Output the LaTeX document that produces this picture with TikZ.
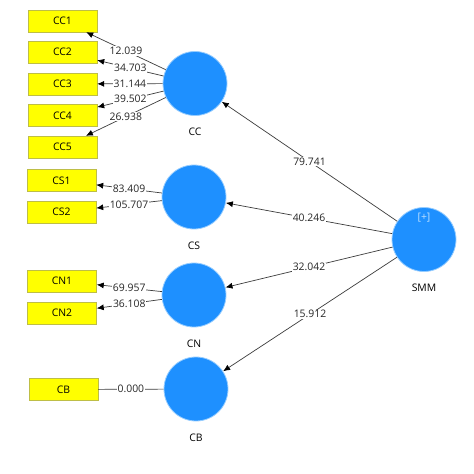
\documentclass[tikz,border=0pt]{standalone}
\usepackage{fontspec}
\setmainfont{Open Sans}
\usepackage{tikz}
\usetikzlibrary{arrows.meta,positioning}
\definecolor{ConstructBlue}{RGB}{30,144,255}
\definecolor{RimBlue}   {RGB}{150,205,255}
\definecolor{ItemYellow}{RGB}{255,255,0}
\definecolor{ItemBorder}{RGB}{190,190,70}
\definecolor{LineGray}  {RGB}{60,60,60}
\definecolor{PlusBlue}  {RGB}{190,225,255}

\begin{document}
\begin{tikzpicture}[
  x=1pt, y=-1pt,
  font=\fontsize{10.4}{12}\selectfont,
  indicator/.style={
    draw=ItemBorder, fill=ItemYellow,
    minimum width=69pt, minimum height=22pt,
    inner sep=0pt},
  construct/.style={
    circle, draw=RimBlue, fill=ConstructBlue,
    line width=0.8pt, minimum size=64pt,
    inner sep=0pt},
  arrow/.style={
    -{Latex[length=7pt,width=6pt,black]},
    line width=0.7pt, color=LineGray},
  plain/.style={line width=0.7pt, color=LineGray},
  weight/.style={fill=white, inner sep=0.8pt, text=black!85}
]
\useasboundingbox[fill=white] (0,0) rectangle (474,474);

% constructs
\node[construct, label={[label distance=9pt]below:CC}] (cc) at (195,83.5) {};
\node[construct, label={[label distance=9pt]below:CS}] (cs) at (194,197) {};
\node[construct, label={[label distance=9pt]below:CN}] (cn) at (194,295) {};
\node[construct, label={[label distance=9pt]below:CB}] (cb) at (196,389) {};
\node[construct, label={[label distance=9pt]below:SMM}] (smm) at (424,239.5) {};
\node[text=PlusBlue] (plus) at (424,218) {[+]};

% indicators
\node[indicator] (cc1) at (62.5,21) {CC1};
\node[indicator] (cc2) at (62.5,52) {CC2};
\node[indicator] (cc3) at (62.5,84) {CC3};
\node[indicator] (cc4) at (62.5,115.5) {CC4};
\node[indicator] (cc5) at (62.5,147) {CC5};
\node[indicator] (cs1) at (61.5,180.5) {CS1};
\node[indicator] (cs2) at (61.5,212) {CS2};
\node[indicator] (cn1) at (62,281) {CN1};
\node[indicator] (cn2) at (62,313) {CN2};
\node[indicator] (cb1) at (63.5,389.5) {CB};

% outer loadings
\draw[arrow] (cc) -- node[weight] {12.039} (cc1);
\draw[arrow] (cc) -- node[weight] {34.703} (cc2);
\draw[arrow] (cc) -- node[weight] {31.144} (cc3);
\draw[arrow] (cc) -- node[weight] {39.502} (cc4);
\draw[arrow] (cc) -- node[weight] {26.938} (cc5);
\draw[arrow] (cs) -- node[weight] {83.409} (cs1);
\draw[arrow] (cs) -- node[weight] {105.707} (cs2);
\draw[arrow] (cn) -- node[weight] {69.957} (cn1);
\draw[arrow] (cn) -- node[weight] {36.108} (cn2);
\draw[plain] (cb) -- node[weight] {0.000} (cb1);

% paths
\draw[arrow] (smm) -- node[weight] {79.741} (cc);
\draw[arrow] (smm) -- node[weight] {40.246} (cs);
\draw[arrow] (smm) -- node[weight] {32.042} (cn);
\draw[arrow] (smm) -- node[weight] {15.912} (cb);
\end{tikzpicture}
\end{document}
